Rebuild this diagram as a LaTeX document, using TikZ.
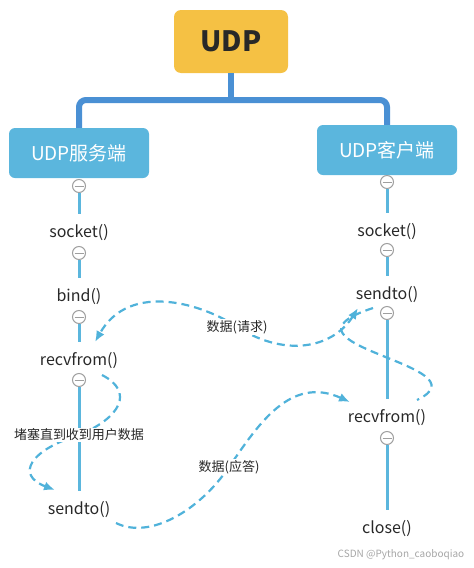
\documentclass[tikz,border=0pt]{standalone}
\usepackage{fontspec}
\setmainfont{Noto Sans CJK SC}
\usepackage{tikz}
\usetikzlibrary{arrows.meta}
\usetikzlibrary{calc}
\definecolor{rootyellow}{RGB}{245,193,68}
\definecolor{trunkblue}{RGB}{74,144,212}
\definecolor{boxblue}{RGB}{91,182,221}
\definecolor{flowblue}{RGB}{80,178,218}
\definecolor{textgray}{RGB}{40,40,40}

\begin{document}
\begin{tikzpicture}[x=1pt,y=-1pt,
  root/.style={fill=rootyellow, rounded corners=7pt, minimum width=114pt,
    minimum height=63pt, font=\fontsize{28}{30}\selectfont\bfseries, text=textgray},
  side/.style={fill=boxblue, rounded corners=6pt, minimum width=140pt,
    minimum height=50pt, font=\fontsize{19}{21}\selectfont, text=white},
  call/.style={inner xsep=2pt, inner ysep=11pt, font=\fontsize{16}{18}\selectfont, text=textgray},
  fold/.style={circle, draw=gray!75, fill=white, line width=1pt, minimum size=13pt,
    inner sep=0pt, path picture={\draw[gray!75, line width=1pt]
      ([xshift=2pt]path picture bounding box.west) -- ([xshift=-2pt]path picture bounding box.east);}},
  stem/.style={boxblue, line width=3pt},
  trunk/.style={trunkblue, line width=6pt, rounded corners=7pt},
  flow/.style={flowblue, line width=2.2pt, dash pattern=on 8pt off 5pt},
  note/.style={fill=white, inner sep=1pt, font=\fontsize{13}{15}\selectfont, text=textgray}]
  \useasboundingbox (0,0) rectangle (474,568);

  % root and the two sides
  \node[root] (udp) at (231,41.5) {UDP};
  \node[side] (server) at (79,153) {UDP服务端};
  \node[side] (client) at (387,150) {UDP客户端};
  \coordinate (bar) at (231,100);
  \draw[trunk] (server.north) |- (bar) -| (client.north);
  \draw[trunk] (udp.south) -- (bar);

  % server column
  \node[fold] (sf0) at (79,186) {};
  \node[call] (ssock) at (79,233) {socket()};
  \node[fold] (sf1) at (79,253) {};
  \node[call] (sbind) at (79,297) {bind()};
  \node[fold] (sf2) at (79,317) {};
  \node[call] (srecv) at (79,361) {recvfrom()};
  \node[fold] (sf3) at (79,380) {};
  \node[call] (ssend) at (79,510) {sendto()};
  \draw[stem] (sf0) -- (ssock);
  \draw[stem] (sf1) -- (sbind);
  \draw[stem] (sf2) -- (srecv);
  \draw[stem] (sf3) -- (ssend);

  % client column
  \node[fold] (cf0) at (387,182) {};
  \node[call] (csock) at (387,232) {socket()};
  \node[fold] (cf1) at (387,250) {};
  \node[call] (csend) at (387,295) {sendto()};
  \node[fold] (cf2) at (387,313) {};
  \node[call] (crecv) at (387,418) {recvfrom()};
  \node[fold] (cf3) at (387,438) {};
  \node[call] (cclose) at (387,529) {close()};
  \draw[stem] (cf0) -- (csock);
  \draw[stem] (cf1) -- (csend);
  \draw[stem] (cf2) -- (crecv);
  \draw[stem] (cf3) -- (cclose);

  % data flow
  \draw[flow] ($(csend)+(-14,13)$) .. controls ($(csend)+(-127,50)$) and ($(crecv)+(103,-53)$) .. ($(crecv)+(30,-18)$);
  \draw[flow, {Latex[length=11pt,width=9pt]}-{Latex[length=11pt,width=9pt]}]
    ($(csend)+(-29,13)$) .. controls (335,345) and (290,360) .. (237,327)
    node[note] {数据(请求)}
    .. controls (205,305) and (130,280) .. ($(srecv)+(16,-19)$);
  \draw[flow, -{Latex[length=11pt,width=9pt]}]
    ($(srecv)+(23,14)$) .. controls (135,392) and (120,418) .. (79,435)
    node[note] {堵塞直到收到用户数据}
    .. controls (30,450) and (15,475) .. ($(ssend)+(-24,-20)$);
  \draw[flow, -{Latex[length=11pt,width=9pt]}]
    ($(ssend)+(37,13)$) .. controls (150,540) and (200,510) .. (229,467)
    node[note] {数据(应答)}
    .. controls (258,425) and (290,375) .. ($(crecv)+(-37,-16)$);

  \node[font=\fontsize{10}{12}\selectfont, text=gray!70] (mark) at (401,555) {CSDN @Python\_caoboqiao};
\end{tikzpicture}
\end{document}
